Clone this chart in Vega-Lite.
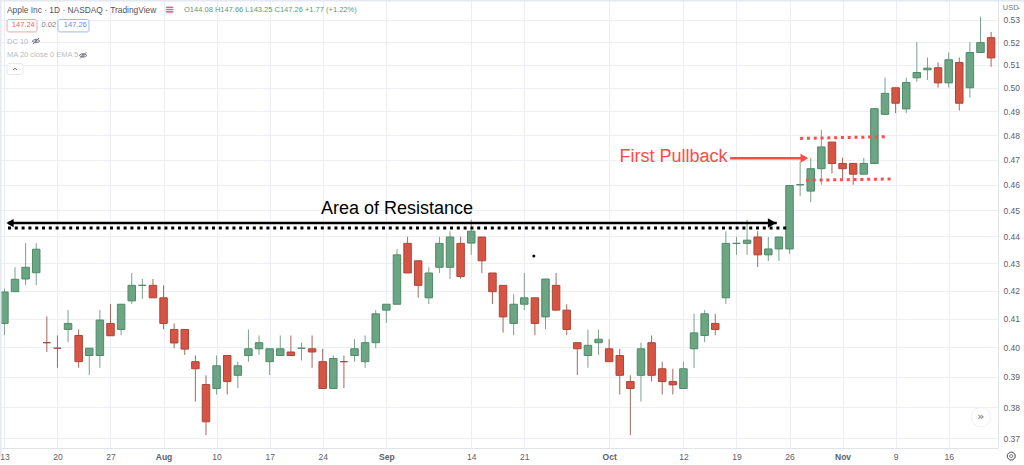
{
  "$schema": "https://vega.github.io/schema/vega-lite/v6.json",
  "width": 998,
  "height": 448,
  "autosize": {"type": "none"},
  "padding": {"left": 0, "top": 0, "right": 26, "bottom": 17},
  "background": "white",
  "config": {
    "view": {"stroke": null},
    "axisY": {
      "title": null,
      "orient": "right",
      "grid": true,
      "gridColor": "#eceef3",
      "ticks": false,
      "domainColor": "#e0e3eb",
      "labelColor": "#5d606b",
      "labelFont": "Liberation Sans",
      "labelFontSize": 8.5,
      "labelPadding": 5,
      "labelOverlap": false,
      "labelFlush": false
    }
  },
  "resolve": {"scale": {"color": "independent"}},
  "datasets": {
    "candles": [
      {"bar":0,"open":0.4083,"high":0.4207,"low":0.4042,"close":0.4195,"dir":"up"},
      {"bar":1,"open":0.4196,"high":0.4285,"low":0.4196,"close":0.4241,"dir":"up"},
      {"bar":2,"open":0.4242,"high":0.4375,"low":0.4220,"close":0.4285,"dir":"up"},
      {"bar":3,"open":0.4265,"high":0.4375,"low":0.4220,"close":0.4352,"dir":"up"},
      {"bar":4,"open":0.4016,"high":0.4108,"low":0.3984,"close":0.4016,"dir":"down"},
      {"bar":5,"open":0.3997,"high":0.4041,"low":0.3930,"close":0.3997,"dir":"down"},
      {"bar":6,"open":0.4062,"high":0.4130,"low":0.4018,"close":0.4083,"dir":"up"},
      {"bar":7,"open":0.4041,"high":0.4062,"low":0.3930,"close":0.3951,"dir":"down"},
      {"bar":8,"open":0.3972,"high":0.3997,"low":0.3906,"close":0.3997,"dir":"up"},
      {"bar":9,"open":0.3972,"high":0.4130,"low":0.3930,"close":0.4095,"dir":"up"},
      {"bar":10,"open":0.4083,"high":0.4151,"low":0.4040,"close":0.4040,"dir":"down"},
      {"bar":11,"open":0.4062,"high":0.4151,"low":0.4042,"close":0.4151,"dir":"up"},
      {"bar":12,"open":0.4163,"high":0.4264,"low":0.4152,"close":0.4219,"dir":"up"},
      {"bar":13,"open":0.4219,"high":0.4242,"low":0.4170,"close":0.4219,"dir":"up"},
      {"bar":14,"open":0.4219,"high":0.4242,"low":0.4174,"close":0.4174,"dir":"down"},
      {"bar":15,"open":0.4174,"high":0.4219,"low":0.4063,"close":0.4083,"dir":"down"},
      {"bar":16,"open":0.4062,"high":0.4083,"low":0.3997,"close":0.4015,"dir":"down"},
      {"bar":17,"open":0.4062,"high":0.4062,"low":0.3974,"close":0.3994,"dir":"down"},
      {"bar":18,"open":0.3951,"high":0.3972,"low":0.3818,"close":0.3927,"dir":"down"},
      {"bar":19,"open":0.3874,"high":0.3905,"low":0.3709,"close":0.3752,"dir":"down"},
      {"bar":20,"open":0.3861,"high":0.3972,"low":0.3841,"close":0.3937,"dir":"up"},
      {"bar":21,"open":0.3972,"high":0.3972,"low":0.3841,"close":0.3884,"dir":"down"},
      {"bar":22,"open":0.3905,"high":0.3951,"low":0.3862,"close":0.3937,"dir":"up"},
      {"bar":23,"open":0.3972,"high":0.4062,"low":0.3951,"close":0.3995,"dir":"up"},
      {"bar":24,"open":0.3995,"high":0.4041,"low":0.3974,"close":0.4016,"dir":"up"},
      {"bar":25,"open":0.3951,"high":0.3995,"low":0.3906,"close":0.3995,"dir":"up"},
      {"bar":26,"open":0.3972,"high":0.4041,"low":0.3972,"close":0.3995,"dir":"up"},
      {"bar":27,"open":0.3984,"high":0.4041,"low":0.3972,"close":0.3972,"dir":"down"},
      {"bar":28,"open":0.3997,"high":0.4016,"low":0.3955,"close":0.3997,"dir":"up"},
      {"bar":29,"open":0.3995,"high":0.4041,"low":0.3930,"close":0.3984,"dir":"down"},
      {"bar":30,"open":0.3951,"high":0.3995,"low":0.3861,"close":0.3861,"dir":"down"},
      {"bar":31,"open":0.3861,"high":0.3972,"low":0.3861,"close":0.3962,"dir":"up"},
      {"bar":32,"open":0.3951,"high":0.3972,"low":0.3862,"close":0.3951,"dir":"down"},
      {"bar":33,"open":0.3972,"high":0.4028,"low":0.3951,"close":0.3995,"dir":"up"},
      {"bar":34,"open":0.3951,"high":0.4041,"low":0.3930,"close":0.4016,"dir":"up"},
      {"bar":35,"open":0.4016,"high":0.4130,"low":0.3997,"close":0.4117,"dir":"up"},
      {"bar":36,"open":0.4130,"high":0.4151,"low":0.4085,"close":0.4151,"dir":"up"},
      {"bar":37,"open":0.4151,"high":0.4352,"low":0.4151,"close":0.4331,"dir":"up"},
      {"bar":38,"open":0.4374,"high":0.4399,"low":0.4264,"close":0.4264,"dir":"down"},
      {"bar":39,"open":0.4309,"high":0.4309,"low":0.4174,"close":0.4219,"dir":"down"},
      {"bar":40,"open":0.4174,"high":0.4285,"low":0.4152,"close":0.4264,"dir":"up"},
      {"bar":41,"open":0.4285,"high":0.4399,"low":0.4264,"close":0.4374,"dir":"up"},
      {"bar":42,"open":0.4285,"high":0.4420,"low":0.4242,"close":0.4398,"dir":"up"},
      {"bar":43,"open":0.4374,"high":0.4399,"low":0.4243,"close":0.4251,"dir":"down"},
      {"bar":44,"open":0.4375,"high":0.4464,"low":0.4331,"close":0.4420,"dir":"up"},
      {"bar":45,"open":0.4398,"high":0.4398,"low":0.4264,"close":0.4309,"dir":"down"},
      {"bar":46,"open":0.4264,"high":0.4264,"low":0.4152,"close":0.4196,"dir":"down"},
      {"bar":47,"open":0.4219,"high":0.4219,"low":0.4051,"close":0.4106,"dir":"down"},
      {"bar":48,"open":0.4083,"high":0.4187,"low":0.4042,"close":0.4151,"dir":"up"},
      {"bar":49,"open":0.4151,"high":0.4264,"low":0.4130,"close":0.4174,"dir":"up"},
      {"bar":50,"open":0.4174,"high":0.4174,"low":0.4042,"close":0.4083,"dir":"down"},
      {"bar":51,"open":0.4106,"high":0.4242,"low":0.4063,"close":0.4242,"dir":"up"},
      {"bar":52,"open":0.4219,"high":0.4264,"low":0.4130,"close":0.4130,"dir":"down"},
      {"bar":53,"open":0.4130,"high":0.4151,"low":0.4042,"close":0.4062,"dir":"down"},
      {"bar":54,"open":0.4016,"high":0.4016,"low":0.3906,"close":0.3995,"dir":"down"},
      {"bar":55,"open":0.3972,"high":0.4062,"low":0.3930,"close":0.4007,"dir":"up"},
      {"bar":56,"open":0.4016,"high":0.4062,"low":0.3974,"close":0.4028,"dir":"up"},
      {"bar":57,"open":0.3995,"high":0.4028,"low":0.3951,"close":0.3951,"dir":"down"},
      {"bar":58,"open":0.3972,"high":0.3995,"low":0.3841,"close":0.3905,"dir":"down"},
      {"bar":59,"open":0.3884,"high":0.3905,"low":0.3709,"close":0.3861,"dir":"down"},
      {"bar":60,"open":0.3905,"high":0.4016,"low":0.3818,"close":0.3995,"dir":"up"},
      {"bar":61,"open":0.4016,"high":0.4041,"low":0.3884,"close":0.3905,"dir":"down"},
      {"bar":62,"open":0.3927,"high":0.3951,"low":0.3841,"close":0.3884,"dir":"down"},
      {"bar":63,"open":0.3884,"high":0.3927,"low":0.3841,"close":0.3873,"dir":"down"},
      {"bar":64,"open":0.3861,"high":0.3951,"low":0.3861,"close":0.3927,"dir":"up"},
      {"bar":65,"open":0.3995,"high":0.4117,"low":0.3930,"close":0.4050,"dir":"up"},
      {"bar":66,"open":0.4041,"high":0.4130,"low":0.4018,"close":0.4117,"dir":"up"},
      {"bar":67,"open":0.4083,"high":0.4117,"low":0.4042,"close":0.4062,"dir":"down"},
      {"bar":68,"open":0.4174,"high":0.4420,"low":0.4152,"close":0.4374,"dir":"up"},
      {"bar":69,"open":0.4374,"high":0.4399,"low":0.4331,"close":0.4374,"dir":"up"},
      {"bar":70,"open":0.4374,"high":0.4464,"low":0.4331,"close":0.4386,"dir":"up"},
      {"bar":71,"open":0.4398,"high":0.4420,"low":0.4286,"close":0.4331,"dir":"down"},
      {"bar":72,"open":0.4331,"high":0.4398,"low":0.4308,"close":0.4353,"dir":"up"},
      {"bar":73,"open":0.4353,"high":0.4398,"low":0.4308,"close":0.4398,"dir":"up"},
      {"bar":74,"open":0.4353,"high":0.4597,"low":0.4335,"close":0.4597,"dir":"up"},
      {"bar":75,"open":0.4600,"high":0.4691,"low":0.4555,"close":0.4600,"dir":"up"},
      {"bar":76,"open":0.4575,"high":0.4708,"low":0.4531,"close":0.4664,"dir":"up"},
      {"bar":77,"open":0.4664,"high":0.4823,"low":0.4600,"close":0.4752,"dir":"up"},
      {"bar":78,"open":0.4772,"high":0.4772,"low":0.4645,"close":0.4685,"dir":"down"},
      {"bar":79,"open":0.4685,"high":0.4708,"low":0.4624,"close":0.4664,"dir":"down"},
      {"bar":80,"open":0.4685,"high":0.4685,"low":0.4600,"close":0.4642,"dir":"down"},
      {"bar":81,"open":0.4642,"high":0.4708,"low":0.4642,"close":0.4685,"dir":"up"},
      {"bar":82,"open":0.4685,"high":0.4911,"low":0.4685,"close":0.4911,"dir":"up"},
      {"bar":83,"open":0.4887,"high":0.5044,"low":0.4887,"close":0.4976,"dir":"up"},
      {"bar":84,"open":0.5000,"high":0.5000,"low":0.4892,"close":0.4934,"dir":"down"},
      {"bar":85,"open":0.4910,"high":0.5044,"low":0.4892,"close":0.5023,"dir":"up"},
      {"bar":86,"open":0.5043,"high":0.5200,"low":0.5026,"close":0.5066,"dir":"up"},
      {"bar":87,"open":0.5078,"high":0.5132,"low":0.5033,"close":0.5085,"dir":"up"},
      {"bar":88,"open":0.5087,"high":0.5110,"low":0.5001,"close":0.5021,"dir":"down"},
      {"bar":89,"open":0.5021,"high":0.5154,"low":0.5001,"close":0.5122,"dir":"up"},
      {"bar":90,"open":0.5110,"high":0.5132,"low":0.4903,"close":0.4934,"dir":"down"},
      {"bar":91,"open":0.5000,"high":0.5200,"low":0.4958,"close":0.5154,"dir":"up"},
      {"bar":92,"open":0.5154,"high":0.5315,"low":0.5154,"close":0.5198,"dir":"up"},
      {"bar":93,"open":0.5220,"high":0.5246,"low":0.5091,"close":0.5130,"dir":"down"}
    ],
    "lines": [
      {"kind":"blackArrow","bar":0.34,"bar2":72.8,"price":0.4451,"price2":0.4451},
      {"kind":"blackDots","bar":0.34,"bar2":73.85,"price":0.4432,"price2":0.4432},
      {"kind":"redArrow","bar":68.4,"bar2":75.3,"price":0.4706,"price2":0.4706},
      {"kind":"redDots","bar":75.0,"bar2":83.1,"price":0.4787,"price2":0.4794},
      {"kind":"redDots","bar":75.55,"bar2":83.66,"price":0.4618,"price2":0.4623},
      {"kind":"frame","bar":-0.34,"bar2":-0.34,"price":0.5392,"price2":0.3640},
      {"kind":"frame","bar":-0.415,"bar2":96.1,"price":0.5388,"price2":0.5388}
    ],
    "heads": [
      {"kind":"blackLeft","bar":0.53,"price":0.4451},
      {"kind":"blackRight","bar":72.35,"price":0.4451},
      {"kind":"redRight","bar":75.4,"price":0.4706},
      {"kind":"dot","bar":49.9,"price":0.4327}
    ],
    "boxes": [
      {"kind":"red","bar":0.245,"bar2":3.07,"price":0.5302,"price2":0.5246},
      {"kind":"blue","bar":5.05,"bar2":7.97,"price":0.5302,"price2":0.5246},
      {"kind":"plain","bar":0.245,"bar2":1.75,"price":0.5105,"price2":0.5057}
    ],
    "icons": [
      {"kind":"eye","bar":2.98,"price":0.5205},
      {"kind":"eye","bar":7.41,"price":0.5141},
      {"kind":"chevron","bar":1.0,"price":0.5081},
      {"kind":"chevronDown","bar":95.6,"price":0.5353},
      {"kind":"gear","bar":94.9,"price":0.3643}
    ],
    "badges": [
      {"kind":"pink","bar":15.56,"price":0.53458},
      {"kind":"scroll","bar":92.04,"price":0.3767}
    ],
    "title": [
      {"bar":0.245,"price":0.53458,"text":"Apple Inc · 1D · NASDAQ · TradingView"}
    ],
    "notes": [
      {"group":"ohlc","bar":16.93,"price":0.53458,"text":"O144.08 H147.66 L143.25 C147.26 +1.77 (+1.22%)"},
      {"group":"red","bar":0.7,"price":0.5275,"text":"147.24"},
      {"group":"mid","bar":3.5,"price":0.5275,"text":"0.02"},
      {"group":"blue","bar":5.6,"price":0.5275,"text":"147.26"},
      {"group":"faint","bar":0.245,"price":0.5201,"text":"DC 10"},
      {"group":"faint","bar":0.245,"price":0.5141,"text":"MA 20 close 0 EMA 5"},
      {"group":"mid","bar":94.1,"price":0.5355,"text":"USD"}
    ],
    "callouts": [
      {"group":"black","bar":37.0,"price":0.4507,"text":"Area of Resistance"},
      {"group":"red","bar":63.06,"price":0.4711,"text":"First Pullback"}
    ],
    "glyphs": [
      {"bar":15.56,"price":0.53458,"text":"≡","group":"pink"},
      {"bar":92.04,"price":0.3767,"text":"»","group":"gray"}
    ]
  },
  "encoding": {
    "x": {
      "field": "bar",
      "type": "quantitative",
      "scale": {"domain": [-0.415, 93.65], "nice": false, "zero": false, "padding": 0},
      "axis": {
        "title": null,
        "values": [0, 5, 10, 15, 20, 25, 30, 36, 44, 49, 57, 64, 69, 74, 79, 84, 89],
        "labelExpr": "{'0':'13','5':'20','10':'27','15':'Aug','20':'10','25':'17','30':'24','36':'Sep','44':'14','49':'21','57':'Oct','64':'12','69':'19','74':'26','79':'Nov','84':'9','89':'16'}[datum.value]",
        "labelFontWeight": {"condition": {"test": "datum.value == 15 || datum.value == 36 || datum.value == 57 || datum.value == 79", "value": "bold"}, "value": "normal"},
        "grid": true,
        "gridColor": "#eceef3",
        "ticks": false,
        "domainColor": "#e0e3eb",
        "labelColor": "#5d606b",
        "labelFont": "Liberation Sans",
        "labelFontSize": 8.5,
        "labelPadding": 4,
        "labelOverlap": false,
        "labelFlush": false
      }
    },
    "y": {
      "field": "price",
      "type": "quantitative",
      "scale": {"type": "log", "domain": [0.36684, 0.53919], "nice": false},
      "axis": {
        "values": [0.37, 0.38, 0.39, 0.40, 0.41, 0.42, 0.43, 0.44, 0.45, 0.46, 0.47, 0.48, 0.49, 0.50, 0.51, 0.52, 0.53],
        "format": ".2f"
      }
    }
  },
  "layer": [
    {
      "data": {"name": "candles"},
      "mark": {"type": "rule", "strokeWidth": 1},
      "encoding": {
        "y": {
          "field": "high",
          "type": "quantitative",
          "scale": {"type": "log", "domain": [0.36684, 0.53919], "nice": false},
          "axis": {
            "values": [0.37, 0.38, 0.39, 0.40, 0.41, 0.42, 0.43, 0.44, 0.45, 0.46, 0.47, 0.48, 0.49, 0.50, 0.51, 0.52, 0.53],
            "format": ".2f"
          }
        },
        "y2": {"field": "low"},
        "color": {"field": "dir", "type": "nominal", "scale": {"domain": ["up", "down"], "range": ["#7ba08c", "#a5685e"]}, "legend": null}
      }
    },
    {
      "data": {"name": "candles"},
      "mark": {"type": "bar", "width": 7.5, "strokeWidth": 1},
      "encoding": {
        "y": {
          "field": "open",
          "type": "quantitative",
          "scale": {"type": "log", "domain": [0.36684, 0.53919], "nice": false},
          "axis": {
            "values": [0.37, 0.38, 0.39, 0.40, 0.41, 0.42, 0.43, 0.44, 0.45, 0.46, 0.47, 0.48, 0.49, 0.50, 0.51, 0.52, 0.53],
            "format": ".2f"
          }
        },
        "y2": {"field": "close"},
        "fill": {"field": "dir", "type": "nominal", "scale": {"domain": ["up", "down"], "range": ["#6ba583", "#d75442"]}, "legend": null},
        "stroke": {"field": "dir", "type": "nominal", "scale": {"domain": ["up", "down"], "range": ["#4f8a69", "#a8473a"]}, "legend": null}
      }
    },
    {
      "data": {"name": "lines"},
      "transform": [{"filter": "datum.kind == 'frame'"}],
      "mark": {"type": "rule", "strokeWidth": 1.5, "color": "#e4e8f0", "clip": false},
      "encoding": {"x2": {"field": "bar2"}, "y2": {"field": "price2"}}
    },
    {
      "data": {"name": "lines"},
      "transform": [{"filter": "datum.kind == 'blackDots'"}],
      "mark": {"type": "rule", "strokeWidth": 3, "color": "black", "strokeDash": [3, 3.8]},
      "encoding": {"x2": {"field": "bar2"}, "y2": {"field": "price2"}}
    },
    {
      "data": {"name": "lines"},
      "transform": [{"filter": "datum.kind == 'blackArrow'"}],
      "mark": {"type": "rule", "strokeWidth": 2.5, "color": "black"},
      "encoding": {"x2": {"field": "bar2"}, "y2": {"field": "price2"}}
    },
    {
      "data": {"name": "lines"},
      "transform": [{"filter": "datum.kind == 'redDots'"}],
      "mark": {"type": "rule", "strokeWidth": 3, "color": "#ff4a4a", "strokeDash": [3, 3.8]},
      "encoding": {"x2": {"field": "bar2"}, "y2": {"field": "price2"}}
    },
    {
      "data": {"name": "lines"},
      "transform": [{"filter": "datum.kind == 'redArrow'"}],
      "mark": {"type": "rule", "strokeWidth": 2.5, "color": "#ff4a4a"},
      "encoding": {"x2": {"field": "bar2"}, "y2": {"field": "price2"}}
    },
    {
      "data": {"name": "heads"},
      "transform": [{"filter": "datum.kind == 'blackLeft'"}],
      "mark": {"type": "point", "shape": "triangle-left", "size": 70, "filled": true, "color": "black", "opacity": 1}
    },
    {
      "data": {"name": "heads"},
      "transform": [{"filter": "datum.kind == 'blackRight'"}],
      "mark": {"type": "point", "shape": "triangle-right", "size": 90, "filled": true, "color": "black", "opacity": 1}
    },
    {
      "data": {"name": "heads"},
      "transform": [{"filter": "datum.kind == 'redRight'"}],
      "mark": {"type": "point", "shape": "triangle-right", "size": 80, "filled": true, "color": "#ff4a4a", "opacity": 1}
    },
    {
      "data": {"name": "heads"},
      "transform": [{"filter": "datum.kind == 'dot'"}],
      "mark": {"type": "circle", "size": 9, "color": "black", "opacity": 1}
    },
    {
      "data": {"name": "boxes"},
      "transform": [{"filter": "datum.kind == 'red'"}],
      "mark": {"type": "rect", "fill": "white", "stroke": "#f7a3a6", "strokeWidth": 1, "cornerRadius": 2},
      "encoding": {"x2": {"field": "bar2"}, "y2": {"field": "price2"}}
    },
    {
      "data": {"name": "boxes"},
      "transform": [{"filter": "datum.kind == 'blue'"}],
      "mark": {"type": "rect", "fill": "white", "stroke": "#9db6f7", "strokeWidth": 1, "cornerRadius": 2},
      "encoding": {"x2": {"field": "bar2"}, "y2": {"field": "price2"}}
    },
    {
      "data": {"name": "boxes"},
      "transform": [{"filter": "datum.kind == 'plain'"}],
      "mark": {"type": "rect", "fill": "white", "stroke": "#e6e8ee", "strokeWidth": 1, "cornerRadius": 2},
      "encoding": {"x2": {"field": "bar2"}, "y2": {"field": "price2"}}
    },
    {
      "data": {"name": "badges"},
      "transform": [{"filter": "datum.kind == 'pink'"}],
      "mark": {"type": "circle", "size": 85, "color": "#fbe2ea", "opacity": 1}
    },
    {
      "data": {"name": "badges"},
      "transform": [{"filter": "datum.kind == 'scroll'"}],
      "mark": {"type": "circle", "size": 380, "fill": "white", "stroke": "#eef0f4", "strokeWidth": 1, "opacity": 1}
    },
    {
      "data": {"name": "icons"},
      "transform": [{"filter": "datum.kind == 'eye'"}],
      "mark": {"type": "point", "shape": "M-1,0Q0,-0.9 1,0Q0,0.9 -1,0ZM-0.8,0.8L0.8,-0.8M0.3,0A0.3,0.3 0 1,1 -0.3,0A0.3,0.3 0 1,1 0.3,0", "size": 60, "filled": false, "color": "#6f727c", "strokeWidth": 0.9, "opacity": 1}
    },
    {
      "data": {"name": "icons"},
      "transform": [{"filter": "datum.kind == 'chevron'"}],
      "mark": {"type": "point", "shape": "M-1,0.5L0,-0.5L1,0.5", "size": 12, "filled": false, "color": "#50535e", "strokeWidth": 1, "opacity": 1}
    },
    {
      "data": {"name": "icons"},
      "transform": [{"filter": "datum.kind == 'chevronDown'"}],
      "mark": {"type": "point", "shape": "M-1,-0.5L0,0.5L1,-0.5", "size": 5, "filled": false, "color": "#6d7079", "strokeWidth": 0.8, "opacity": 1}
    },
    {
      "data": {"name": "icons"},
      "transform": [{"filter": "datum.kind == 'gear'"}],
      "mark": {"type": "point", "shape": "M-0.45,-1L0.45,-1L0.6,-0.7L1,-0.45L1,0.45L0.6,0.7L0.45,1L-0.45,1L-0.6,0.7L-1,0.45L-1,-0.45L-0.6,-0.7ZM0.4,0A0.4,0.4 0 1,1 -0.4,0A0.4,0.4 0 1,1 0.4,0", "size": 60, "filled": false, "color": "#50535e", "strokeWidth": 1, "opacity": 1}
    },
    {
      "data": {"name": "glyphs"},
      "mark": {"type": "text", "align": "center", "baseline": "middle", "fontSize": 11, "fontWeight": "bold", "font": "DejaVu Sans"},
      "encoding": {
        "text": {"field": "text"},
        "color": {"field": "group", "type": "nominal", "scale": {"domain": ["pink", "gray"], "range": ["#e65a9a", "#8a8d96"]}, "legend": null}
      }
    },
    {
      "data": {"name": "title"},
      "mark": {"type": "text", "align": "left", "baseline": "middle", "fontSize": 8.4, "font": "Liberation Sans", "color": "#50535e"},
      "encoding": {"text": {"field": "text"}}
    },
    {
      "data": {"name": "notes"},
      "mark": {"type": "text", "align": "left", "baseline": "middle", "fontSize": 7.5, "font": "Liberation Sans"},
      "encoding": {
        "text": {"field": "text"},
        "color": {"field": "group", "type": "nominal", "scale": {"domain": ["ohlc", "red", "mid", "blue", "faint"], "range": ["#5b9a78", "#ef5f68", "#787b86", "#6d8fe8", "#b9bcc4"]}, "legend": null}
      }
    },
    {
      "data": {"name": "callouts"},
      "mark": {"type": "text", "align": "center", "baseline": "middle", "fontSize": 18, "font": "Liberation Sans"},
      "encoding": {
        "text": {"field": "text"},
        "color": {"field": "group", "type": "nominal", "scale": {"domain": ["black", "red"], "range": ["black", "#ff4a4a"]}, "legend": null}
      }
    }
  ]
}
